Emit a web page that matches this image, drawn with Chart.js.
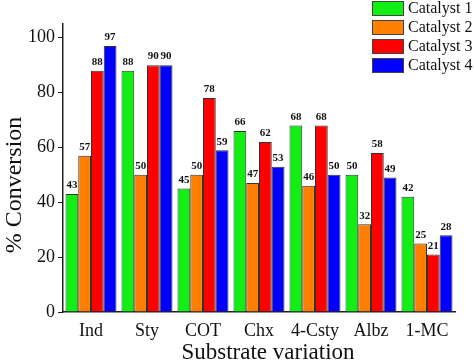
<!DOCTYPE html>
<html>
<head>
<meta charset="utf-8">
<script src="https://cdn.jsdelivr.net/npm/chart.js@4.4.1/dist/chart.umd.min.js"></script>
<style>
  html, body { margin: 0; padding: 0; background: #fff; }
  #wrap { width: 474px; height: 361px; }
</style>
</head>
<body>
<div id="wrap"><canvas id="myChart" width="474" height="361"></canvas></div>
<script>
// chart data
const substrates = ["Ind", "Sty", "COT", "Chx", "4-Csty", "Albz", "1-MC"];
const catalyst1 = [43, 88, 45, 66, 68, 50, 42];
const catalyst2 = [57, 50, 50, 47, 46, 32, 25];
const catalyst3 = [88, 90, 78, 62, 68, 58, 21];
const catalyst4 = [97, 90, 59, 53, 50, 49, 28];
const seriesNames = ["Catalyst 1", "Catalyst 2", "Catalyst 3", "Catalyst 4"];
const yTicks = [0, 20, 40, 60, 80, 100];
const xTitle = "Substrate variation";
const yTitle = "% Conversion";

const colors = ["#11ee11", "#ff8000", "#ff0000", "#0000ff"];
const serif = "'Liberation Serif', 'Times New Roman', serif";

// value labels above each bar
const valueLabels = {
    id: "valueLabels",
    afterDatasetsDraw(chart) {
        const ctx = chart.ctx;
        ctx.save();
        ctx.font = "bold 11px " + serif;
        ctx.fillStyle = "#111";
        ctx.textAlign = "center";
        ctx.textBaseline = "bottom";
        chart.data.datasets.forEach((ds, i) => {
            chart.getDatasetMeta(i).data.forEach((bar, j) => {
                ctx.fillText(ds.data[j], bar.x, bar.y - 3);
            });
        });
        ctx.restore();
    }
};

// axis titles, placed by hand (the x one is partly cut off in the original)
const axisTitles = {
    id: "axisTitles",
    afterDraw(chart) {
        const ctx = chart.ctx;
        const area = chart.chartArea;
        ctx.save();
        ctx.fillStyle = "#111";
        ctx.textAlign = "center";
        ctx.font = "23px " + serif;
        ctx.textBaseline = "alphabetic";
        ctx.fillText(xTitle, (area.left + area.right) / 2 + 9, 359);
        ctx.font = "24px " + serif;
        ctx.translate(15, 185);
        ctx.rotate(-Math.PI / 2);
        ctx.textBaseline = "middle";
        ctx.fillText(yTitle, 0, 0);
        ctx.restore();
    }
};

// legend in the top right corner, drawn by hand so it can overlap the plot
const cornerLegend = {
    id: "cornerLegend",
    afterDraw(chart) {
        const ctx = chart.ctx;
        ctx.save();
        ctx.font = "16px " + serif;
        ctx.textBaseline = "middle";
        chart.data.datasets.forEach((ds, i) => {
            const top = 1 + i * 19;
            ctx.fillStyle = ds.backgroundColor;
            ctx.fillRect(372, top, 32, 15);
            ctx.strokeStyle = "#444";
            ctx.lineWidth = 1;
            ctx.strokeRect(372.5, top + 0.5, 31, 14);
            ctx.fillStyle = "#111";
            ctx.fillText(ds.label, 408, top + 8);
        });
        ctx.restore();
    }
};

const ctx = document.getElementById("myChart").getContext("2d");
new Chart(ctx, {
    type: "bar",
    data: {
        labels: substrates,
        datasets: [catalyst1, catalyst2, catalyst3, catalyst4].map((vals, i) => ({
            label: seriesNames[i],
            data: vals,
            backgroundColor: colors[i],
            borderColor: "#333",
            borderWidth: 1,
            barPercentage: 1.0,
            categoryPercentage: 0.91
        }))
    },
    options: {
        responsive: false,
        animation: false,
        layout: { padding: { top: 24, right: 19, left: 0, bottom: 0 } },
        plugins: {
            legend: { display: false },
            tooltip: { enabled: false }
        },
        scales: {
            x: {
                grid: { display: false, drawTicks: false },
                border: { color: "#222", width: 1.5 },
                ticks: { color: "#111", font: { family: serif, size: 18 }, padding: 8 },
                afterFit(scale) { scale.height = 49; }
            },
            y: {
                min: 0,
                max: 105,
                afterBuildTicks(scale) { scale.ticks = yTicks.map(v => ({ value: v })); },
                grid: { display: true, drawOnChartArea: false, drawTicks: true, tickLength: 5, color: "#222" },
                border: { color: "#222", width: 1.5 },
                ticks: { color: "#111", font: { family: serif, size: 18 }, padding: 3 },
                afterFit(scale) { scale.width = 63; }
            }
        }
    },
    plugins: [valueLabels, axisTitles, cornerLegend]
});
</script>
</body>
</html>
